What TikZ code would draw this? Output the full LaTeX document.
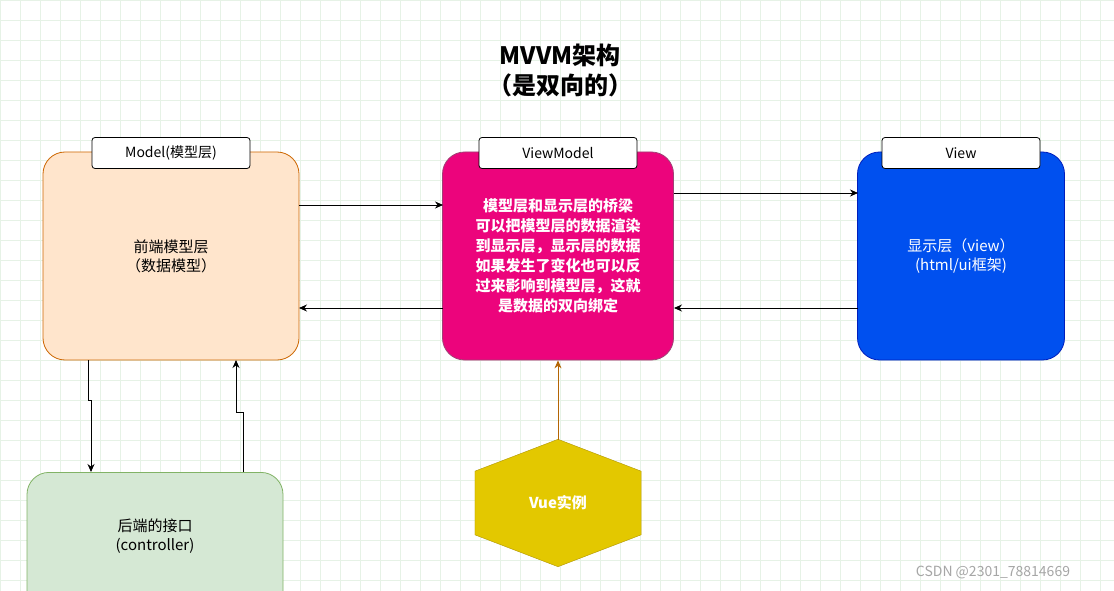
\documentclass[tikz,border=0pt]{standalone}
\usepackage{fontspec}
\setmainfont{Noto Sans CJK SC}
\usetikzlibrary{shapes.geometric,arrows.meta}
\begin{document}
\begin{tikzpicture}[x=1pt,y=-1pt,
 box/.style={draw,rounded corners=22pt,line width=0.8pt,align=center,font=\fontsize{15}{19}\selectfont},
 tab/.style={draw,fill=white,rounded corners=3pt,line width=0.8pt,font=\fontsize{14}{16}\selectfont,minimum width=158pt,minimum height=31pt,inner sep=0pt},
 arr/.style={-{Stealth[length=8pt,width=7pt]},line width=0.8pt}]
\useasboundingbox (0,0) rectangle (1114,591);
\fill[white] (0,0) rectangle (1114,591);
\draw[step=20pt,color=green!30!gray!15,line width=0.4pt] (0,0) grid (1114,591);
\node[font=\bfseries\fontsize{24}{30}\selectfont,align=center] (title) at (560,70) {MVVM架构\\（是双向的）};
\node[box,fill=orange!20,draw=orange!80!black,minimum width=256pt,minimum height=208pt] (m) at (171,256) {前端模型层\\（数据模型）};
\node[tab] (mt) at (171,153) {Model(模型层)};
\node[box,fill=magenta!85!red,draw=magenta!60!black,text=white,font=\bfseries\fontsize{15}{20}\selectfont,minimum width=231pt,minimum height=208pt] (vm) at (558,256) {模型层和显示层的桥梁\\可以把模型层的数据渲染\\到显示层，显示层的数据\\如果发生了变化也可以反\\过来影响到模型层，这就\\是数据的双向绑定};
\node[tab] (vmt) at (558,153) {ViewModel};
\node[box,fill={rgb,255:red,0;green,80;blue,239},draw={rgb,255:red,0;green,29;blue,188},text=white,minimum width=207pt,minimum height=208pt] (v) at (961,256) {显示层（view）\\(html/ui框架)};
\node[tab] (vt) at (961,153) {View};
\node[box,fill={rgb,255:red,213;green,232;blue,212},draw={rgb,255:red,130;green,179;blue,102},minimum width=256pt,minimum height=150pt,anchor=north] (b) at (155,472) {};
\node[font=\fontsize{15}{19}\selectfont,align=center] (bt) at (155,536) {后端的接口\\(controller)};
\node[regular polygon,regular polygon sides=6,shape border rotate=90,fill={rgb,255:red,227;green,200;blue,0},draw={rgb,255:red,176;green,149;blue,0},minimum size=140pt,inner sep=0pt,text=white,font=\bfseries\fontsize{15}{19}\selectfont,xscale=1.37,yscale=0.91] (vue) at (558,503) {};
\node[text=white,font=\bfseries\fontsize{15}{19}\selectfont] (vuet) at (558,503) {Vue实例};
\coordinate (m1) at (88,360); \coordinate (b1) at (91,472);
\draw[arr] (m1) -- (88,400) -- (91,400) -- (b1);
\coordinate (b2) at (243,472); \coordinate (m2) at (236,360);
\draw[arr] (b2) -- (243,412) -- (236,412) -- (m2);
\draw[arr] (299,205) -- (443,205);
\draw[arr] (443,308) -- (299,308);
\draw[arr] (674,193) -- (858,193);
\draw[arr] (858,308) -- (674,308);
\draw[arr,draw={rgb,255:red,180;green,101;blue,4}] (558,440) -- (vm.south);
\node[text=gray!70,font=\fontsize{14}{16}\selectfont] (wm) at (993,572) {CSDN @2301\_78814669};
\end{tikzpicture}
\end{document}
